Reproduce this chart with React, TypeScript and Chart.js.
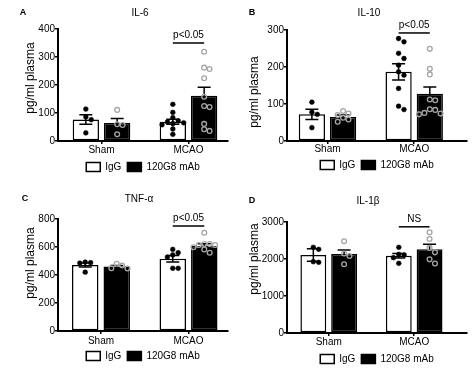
import { useEffect, useRef } from 'react';
import { Chart, registerables } from 'chart.js';

Chart.register(...registerables);

// ---------------- data ----------------
const categories = ['Sham', 'MCAO'];
const seriesNames = ['IgG', '120G8 mAb'];
const panelLetters = ['A', 'B', 'C', 'D'];
const panelTitles = ['IL-6', 'IL-10', 'TNF-α', 'IL-1β'];
const yAxisTitle = 'pg/ml plasma';
const yMaxValues = [400, 300, 800, 3000];
const yStepValues = [100, 100, 200, 1000];
const sigLabels = ['p<0.05', 'p<0.05', 'p<0.05', 'NS'];
const sigLevels = [350, 292, 750, 2870];

// IL-6
const il6IgGMean = [77, 69];
const il6IgGSem = [17, 9];
const il6MabMean = [64, 162];
const il6MabSem = [16, 30];
const il6IgGShamPoints = [114, 86, 76, 29];
const il6IgGMcaoPoints = [131, 102, 83, 72, 68, 65, 62, 58, 43, 24];
const il6MabShamPoints = [111, 60, 57, 24];
const il6MabMcaoPoints = [319, 262, 257, 224, 158, 125, 121, 61, 42, 36];

// IL-10
const il10IgGMean = [72, 187];
const il10IgGSem = [14, 22];
const il10MabMean = [65, 128];
const il10MabSem = [5, 18];
const il10IgGShamPoints = [105, 78, 72, 36];
const il10IgGMcaoPoints = [277, 268, 237, 223, 205, 187, 178, 142, 94, 85];
const il10MabShamPoints = [81, 74, 70, 63, 58, 52];
const il10MabMcaoPoints = [249, 195, 180, 112, 110, 86, 84, 76, 74, 72];

// TNF-a
const tnfIgGMean = [471, 516];
const tnfIgGSem = [14, 24];
const tnfMabMean = [460, 608];
const tnfMabSem = [8, 15];
const tnfIgGShamPoints = [492, 488, 485, 420];
const tnfIgGMcaoPoints = [583, 559, 543, 528, 448, 448];
const tnfMabShamPoints = [480, 468, 448, 446];
const tnfMabMcaoPoints = [702, 621, 621, 614, 614, 598, 583, 559];

// IL-1b
const il1bIgGMean = [2108, 2090];
const il1bIgGSem = [170, 60];
const il1bMabMean = [2135, 2261];
const il1bMabSem = [110, 135];
const il1bIgGShamPoints = [2315, 2261, 1928, 1910];
const il1bIgGMcaoPoints = [2315, 2126, 2108, 2036, 1883];
const il1bMabShamPoints = [2480, 2150, 2080, 1860];
const il1bMabMcaoPoints = [2720, 2540, 2300, 2180, 1990, 1880];

const panels = [
  { igMean: il6IgGMean, igSem: il6IgGSem, mbMean: il6MabMean, mbSem: il6MabSem, igPts: [il6IgGShamPoints, il6IgGMcaoPoints], mbPts: [il6MabShamPoints, il6MabMcaoPoints] },
  { igMean: il10IgGMean, igSem: il10IgGSem, mbMean: il10MabMean, mbSem: il10MabSem, igPts: [il10IgGShamPoints, il10IgGMcaoPoints], mbPts: [il10MabShamPoints, il10MabMcaoPoints] },
  { igMean: tnfIgGMean, igSem: tnfIgGSem, mbMean: tnfMabMean, mbSem: tnfMabSem, igPts: [tnfIgGShamPoints, tnfIgGMcaoPoints], mbPts: [tnfMabShamPoints, tnfMabMcaoPoints] },
  { igMean: il1bIgGMean, igSem: il1bIgGSem, mbMean: il1bMabMean, mbSem: il1bMabSem, igPts: [il1bIgGShamPoints, il1bIgGMcaoPoints], mbPts: [il1bMabShamPoints, il1bMabMcaoPoints] },
];

// ---------------- layout (positions / styles) ----------------
const W = 237;
const H = 186;
const LEG_PAD = 6;
const LEG_H = 26;
const FONT = '"Liberation Sans", Arial, Helvetica, sans-serif';
const CAT_PCT = 0.72;
const BAR_PCT = 0.84;
const TICK_LEN = 3;

const layouts = [
  { x: 0, y: 0, l: 58, r: 228, t: 29, b: 141, xMin: -0.5, xMax: 1.454, labelY: 150, legendY: 167, letter: [23, 13], title: [140, 13], yTitle: [31, 78] },
  { x: 237, y: 0, l: 50, r: 230, t: 30, b: 141, xMin: -0.467, xMax: 1.609, labelY: 149, legendY: 165, letter: [15, 13], title: [132, 13], yTitle: [18, 92] },
  { x: 0, y: 186, l: 58, r: 228, t: 33, b: 145, xMin: -0.491, xMax: 1.451, labelY: 155, legendY: 170, letter: [25, 13], title: [139, 13], yTitle: [31, 77] },
  { x: 237, y: 186, l: 50, r: 230, t: 36, b: 147, xMin: -0.488, xMax: 1.618, labelY: 156, legendY: 173, letter: [15, 15], title: [131, 15], yTitle: [18, 73] },
];

function swarm(values: number[], pxPerY: number, step: number, minDist: number): number[] {
  const placed: { x: number; y: number }[] = [];
  return values.map((v) => {
    const y = v * pxPerY;
    for (let k = 0; k < 60; k++) {
      const off = k === 0 ? 0 : (k % 2 === 1 ? 1 : -1) * Math.ceil(k / 2) * step;
      if (placed.every((p) => Math.hypot(p.x - off, p.y - y) >= minDist)) {
        placed.push({ x: off, y });
        return off;
      }
    }
    return 0;
  });
}

function Panel({ idx }: { idx: number }) {
  const ref = useRef<HTMLCanvasElement | null>(null);
  const L = layouts[idx];
  useEffect(() => {
    const P = panels[idx];
    const yMax = yMaxValues[idx];
    const pxPerY = (L.b - L.t) / yMax;
    const pxPerX = (L.r - L.l) / (L.xMax - L.xMin);
    const groupOff = CAT_PCT / 4;
    const legendTop = L.legendY - LEG_PAD - 5;
    const tickPad = L.labelY - L.b - TICK_LEN - 6;

    const makePoints = (groups: number[][], sign: number) => {
      const out: { x: number; y: number }[] = [];
      groups.forEach((vals, ci) => {
        const offs = swarm(vals, pxPerY, 5.4, 5.2);
        vals.forEach((v, j) => out.push({ x: ci + sign * groupOff + offs[j] / pxPerX, y: v }));
      });
      return out;
    };

    const sems = [P.igSem, P.mbSem];
    const means = [P.igMean, P.mbMean];

    const errorBars = {
      id: 'errorBars',
      afterDatasetDraw(chart: any, args: any) {
        const di = args.index;
        if (di > 1) return;
        const ctx = chart.ctx;
        const ys = chart.scales.y;
        const meta = chart.getDatasetMeta(di);
        ctx.save();
        ctx.strokeStyle = '#000';
        ctx.lineWidth = 1.5;
        meta.data.forEach((el: any, i: number) => {
          const m = means[di][i];
          const s = sems[di][i];
          const yt = ys.getPixelForValue(m + s);
          const yb = ys.getPixelForValue(m - s);
          const half = 6.5;
          ctx.beginPath();
          ctx.moveTo(el.x, yb);
          ctx.lineTo(el.x, yt);
          ctx.moveTo(el.x - half, yt);
          ctx.lineTo(el.x + half, yt);
          ctx.moveTo(el.x - half, yb);
          ctx.lineTo(el.x + half, yb);
          ctx.stroke();
        });
        ctx.restore();
      },
    };

    const annotations = {
      id: 'annotations',
      afterDraw(chart: any) {
        const ctx = chart.ctx;
        const ys = chart.scales.y;
        const m0 = chart.getDatasetMeta(0).data[1] as any;
        const m1 = chart.getDatasetMeta(1).data[1] as any;
        const yl = ys.getPixelForValue(sigLevels[idx]);
        ctx.save();
        ctx.strokeStyle = '#000';
        ctx.lineWidth = 1.5;
        ctx.beginPath();
        ctx.moveTo(m0.x, yl);
        ctx.lineTo(m1.x, yl);
        ctx.stroke();
        ctx.fillStyle = '#000';
        ctx.textAlign = 'center';
        ctx.textBaseline = 'middle';
        ctx.font = `10px ${FONT}`;
        ctx.fillText(sigLabels[idx], (m0.x + m1.x) / 2, yl - 8);
        // panel letter
        ctx.font = `bold 9px ${FONT}`;
        ctx.fillText(panelLetters[idx], L.letter[0], L.letter[1]);
        // title
        ctx.font = `10px ${FONT}`;
        ctx.fillText(panelTitles[idx], L.title[0], L.title[1]);
        // y axis title
        ctx.translate(L.yTitle[0], L.yTitle[1]);
        ctx.rotate(-Math.PI / 2);
        ctx.font = `12px ${FONT}`;
        ctx.fillText(yAxisTitle, 0, 0);
        ctx.restore();
      },
    };

    const chart = new Chart(ref.current as HTMLCanvasElement, {
      type: 'bar',
      data: {
        datasets: [
          {
            type: 'bar',
            label: seriesNames[0],
            data: P.igMean.map((v, i) => ({ x: i, y: v })),
            backgroundColor: '#ffffff',
            borderColor: '#000000',
            borderWidth: 1.5,
            borderSkipped: false,
            categoryPercentage: CAT_PCT,
            barPercentage: BAR_PCT,
            order: 2,
          },
          {
            type: 'bar',
            label: seriesNames[1],
            data: P.mbMean.map((v, i) => ({ x: i, y: v })),
            backgroundColor: '#000000',
            borderColor: '#000000',
            borderWidth: 1.5,
            borderSkipped: false,
            categoryPercentage: CAT_PCT,
            barPercentage: BAR_PCT,
            order: 2,
          },
          {
            type: 'scatter',
            label: seriesNames[0] + ' points',
            data: makePoints(P.igPts, -1),
            pointRadius: 2.4,
            pointBackgroundColor: '#000000',
            pointBorderColor: '#000000',
            pointBorderWidth: 0.5,
            showLine: false,
            order: 1,
          },
          {
            type: 'scatter',
            label: seriesNames[1] + ' points',
            data: makePoints(P.mbPts, 1),
            pointRadius: 2.4,
            pointBackgroundColor: 'rgba(0,0,0,0)',
            pointBorderColor: '#a6a6a6',
            pointBorderWidth: 1.3,
            showLine: false,
            order: 1,
          },
        ] as any,
      },
      options: {
        responsive: false,
        animation: false,
        events: [],
        layout: { padding: { left: 0, right: W - L.r, top: L.t, bottom: H - legendTop - LEG_H } },
        scales: {
          x: {
            type: 'linear',
            offset: false,
            min: L.xMin,
            max: L.xMax,
            afterBuildTicks: (s: any) => {
              s.ticks = [{ value: 0 }, { value: 1 }];
            },
            afterFit: (s: any) => {
              s.height = legendTop - L.b;
            },
            ticks: {
              autoSkip: false,
              maxRotation: 0,
              padding: tickPad,
              color: '#000',
              font: { size: 10, family: FONT },
              callback: (v: any) => categories[Math.round(Number(v))] ?? '',
            },
            grid: { display: true, offset: false, drawOnChartArea: false, drawTicks: true, tickLength: TICK_LEN, color: '#000', lineWidth: 1.5 },
            border: { display: true, color: '#000', width: 2 },
          },
          y: {
            type: 'linear',
            min: 0,
            max: yMax,
            afterFit: (s: any) => {
              s.width = L.l;
            },
            ticks: {
              stepSize: yStepValues[idx],
              padding: 0,
              color: '#000',
              font: { size: 10, family: FONT },
              callback: (v: any) => String(v),
            },
            grid: { display: true, drawOnChartArea: false, drawTicks: true, tickLength: TICK_LEN, color: '#000', lineWidth: 1.5 },
            border: { display: true, color: '#000', width: 2 },
          },
        },
        plugins: {
          title: { display: false },
          tooltip: { enabled: false },
          legend: {
            display: true,
            position: 'bottom',
            fullSize: false,
            maxHeight: LEG_H,
            labels: {
              boxWidth: 14,
              boxHeight: 9,
              padding: LEG_PAD,
              color: '#000',
              font: { size: 10, family: FONT },
              filter: (item: any) => item.datasetIndex < 2,
            },
          },
        },
      } as any,
      plugins: [errorBars, annotations],
    });
    return () => chart.destroy();
  }, [idx]);
  return (
    <canvas
      ref={ref}
      width={W}
      height={H}
      style={{ position: 'absolute', left: L.x, top: L.y, width: W, height: H }}
    />
  );
}

export default function App() {
  return (
    <div style={{ position: 'absolute', left: 0, top: 0, width: 474, height: 373, background: '#fff', overflow: 'hidden' }}>
      {[0, 1, 2, 3].map((i) => (
        <Panel key={i} idx={i} />
      ))}
    </div>
  );
}
